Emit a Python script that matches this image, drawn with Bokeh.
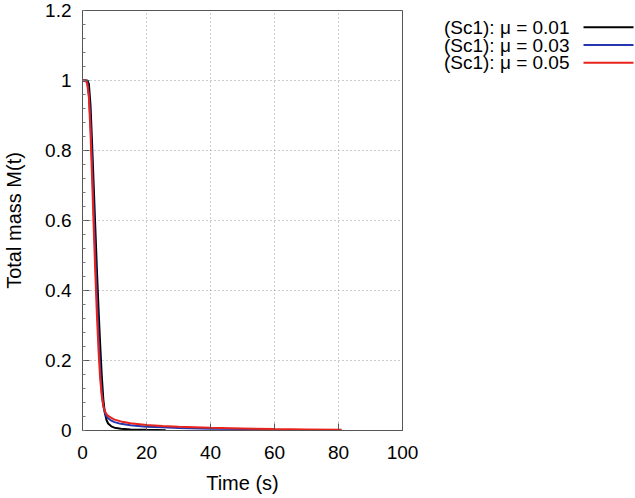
from bokeh.plotting import figure
from bokeh.layouts import row
from bokeh.models import Range1d, ColumnDataSource, FixedTicker
from bokeh.core.properties import value
from bokeh.embed import file_html
from bokeh.resources import INLINE

# ---- data ----
t_black = [0, 1, 1.5, 2, 2.5, 3, 3.5, 4, 4.5, 5, 5.5, 6, 6.5, 7, 7.5, 8, 9, 10, 12, 15, 20, 26]
m_black = [1, 1, 1, 0.99, 0.93, 0.82, 0.70, 0.58, 0.46, 0.35, 0.25, 0.16, 0.09, 0.05, 0.03,
           0.02, 0.012, 0.008, 0.005, 0.003, 0.002, 0.001]

t_blue = [0, 1, 1.5, 2, 2.5, 3, 3.5, 4, 4.5, 5, 5.5, 6, 6.5, 7, 7.5, 8, 9, 10, 12, 15, 20, 25,
          30, 40, 50, 60]
m_blue = [1, 1, 0.995, 0.96, 0.88, 0.76, 0.63, 0.50, 0.38, 0.27, 0.18, 0.11, 0.07, 0.05, 0.04,
          0.035, 0.028, 0.024, 0.019, 0.015, 0.011, 0.009, 0.007, 0.005, 0.004, 0.003]

t_red = [0, 1, 1.5, 2, 2.5, 3, 3.5, 4, 4.5, 5, 5.5, 6, 6.5, 7, 7.5, 8, 9, 10, 12, 15, 20, 25,
         30, 40, 50, 60, 70, 81]
m_red = [1, 1, 0.99, 0.95, 0.85, 0.72, 0.58, 0.45, 0.33, 0.23, 0.15, 0.10, 0.07, 0.055, 0.047,
         0.042, 0.036, 0.031, 0.026, 0.021, 0.016, 0.013, 0.011, 0.008, 0.006, 0.004, 0.003, 0.002]

series_labels = ["(Sc1): \u03bc = 0.01", "(Sc1): \u03bc = 0.03", "(Sc1): \u03bc = 0.05"]
series_colors = ["#000000", "#2636b0", "#e8231b"]

x_ticks = [0, 20, 40, 60, 80, 100]
y_ticks = [0, 0.2, 0.4, 0.6, 0.8, 1.0, 1.2]
y_minor = [i * 0.04 for i in range(31)]

FONT = "Liberation Sans"

p = figure(frame_width=320, frame_height=420, output_backend="svg", toolbar_location=None,
           x_range=Range1d(0, 100), y_range=Range1d(0, 1.2),
           min_border_left=81, min_border_right=19, min_border_top=10, min_border_bottom=68)

for (tx, my), col in zip([(t_black, m_black), (t_blue, m_blue), (t_red, m_red)], series_colors):
    p.line(tx, my, line_color=col, line_width=2)

p.outline_line_color = "#555555"
p.outline_line_width = 1

xax = p.below[0]
yax = p.left[0]
for ax in (xax, yax):
    ax.axis_line_color = "#555555"
    ax.major_tick_in = 7
    ax.major_tick_out = 0
    ax.minor_tick_in = 3
    ax.minor_tick_out = 0
    ax.major_tick_line_color = "#555555"
    ax.minor_tick_line_color = "#777777"
    ax.major_label_text_font = FONT
    ax.major_label_text_font_size = "19px"
    ax.major_label_text_color = "#000000"
    ax.axis_label_text_font = FONT
    ax.axis_label_text_font_size = "20px"
    ax.axis_label_text_font_style = "normal"
    ax.axis_label_text_color = "#000000"

xax.ticker = FixedTicker(ticks=x_ticks, minor_ticks=[])
yax.ticker = FixedTicker(ticks=y_ticks, minor_ticks=y_minor)
yax.major_label_overrides = {0: "0", 1.0: "1", 1.2: "1.2"}
xax.axis_label = "Time (s)"
yax.axis_label = "Total mass M(t)"
xax.major_label_standoff = 15
yax.major_label_standoff = 11
xax.axis_label_standoff = 10
yax.axis_label_standoff = 17

for g in (p.xgrid[0], p.ygrid[0]):
    g.grid_line_color = "#999999"
    g.grid_line_dash = "1 3"
    g.grid_line_width = 1

# ---- legend panel (text left, sample line right, like the original) ----
lg = figure(width=215, height=498, output_backend="svg", toolbar_location=None,
            x_range=Range1d(0, 215), y_range=Range1d(498, 0),
            min_border=0, min_border_left=0, min_border_right=0,
            min_border_top=0, min_border_bottom=0)
lg.axis.visible = False
lg.grid.visible = False
lg.outline_line_color = None

row_y = [20, 41, 62]
src = ColumnDataSource(dict(x=[148] * 3, y=row_y, text=series_labels))
lg.text(x="x", y="y", text="text", source=src, text_align="right", text_baseline="middle",
        text_font=value(FONT), text_font_size="19px", text_color="#000000")
for yy, col in zip(row_y, series_colors):
    lg.line([162, 212], [yy, yy], line_color=col, line_width=2)

layout = row(p, lg, spacing=0)
open("out.html", "w").write(file_html(layout, INLINE))
